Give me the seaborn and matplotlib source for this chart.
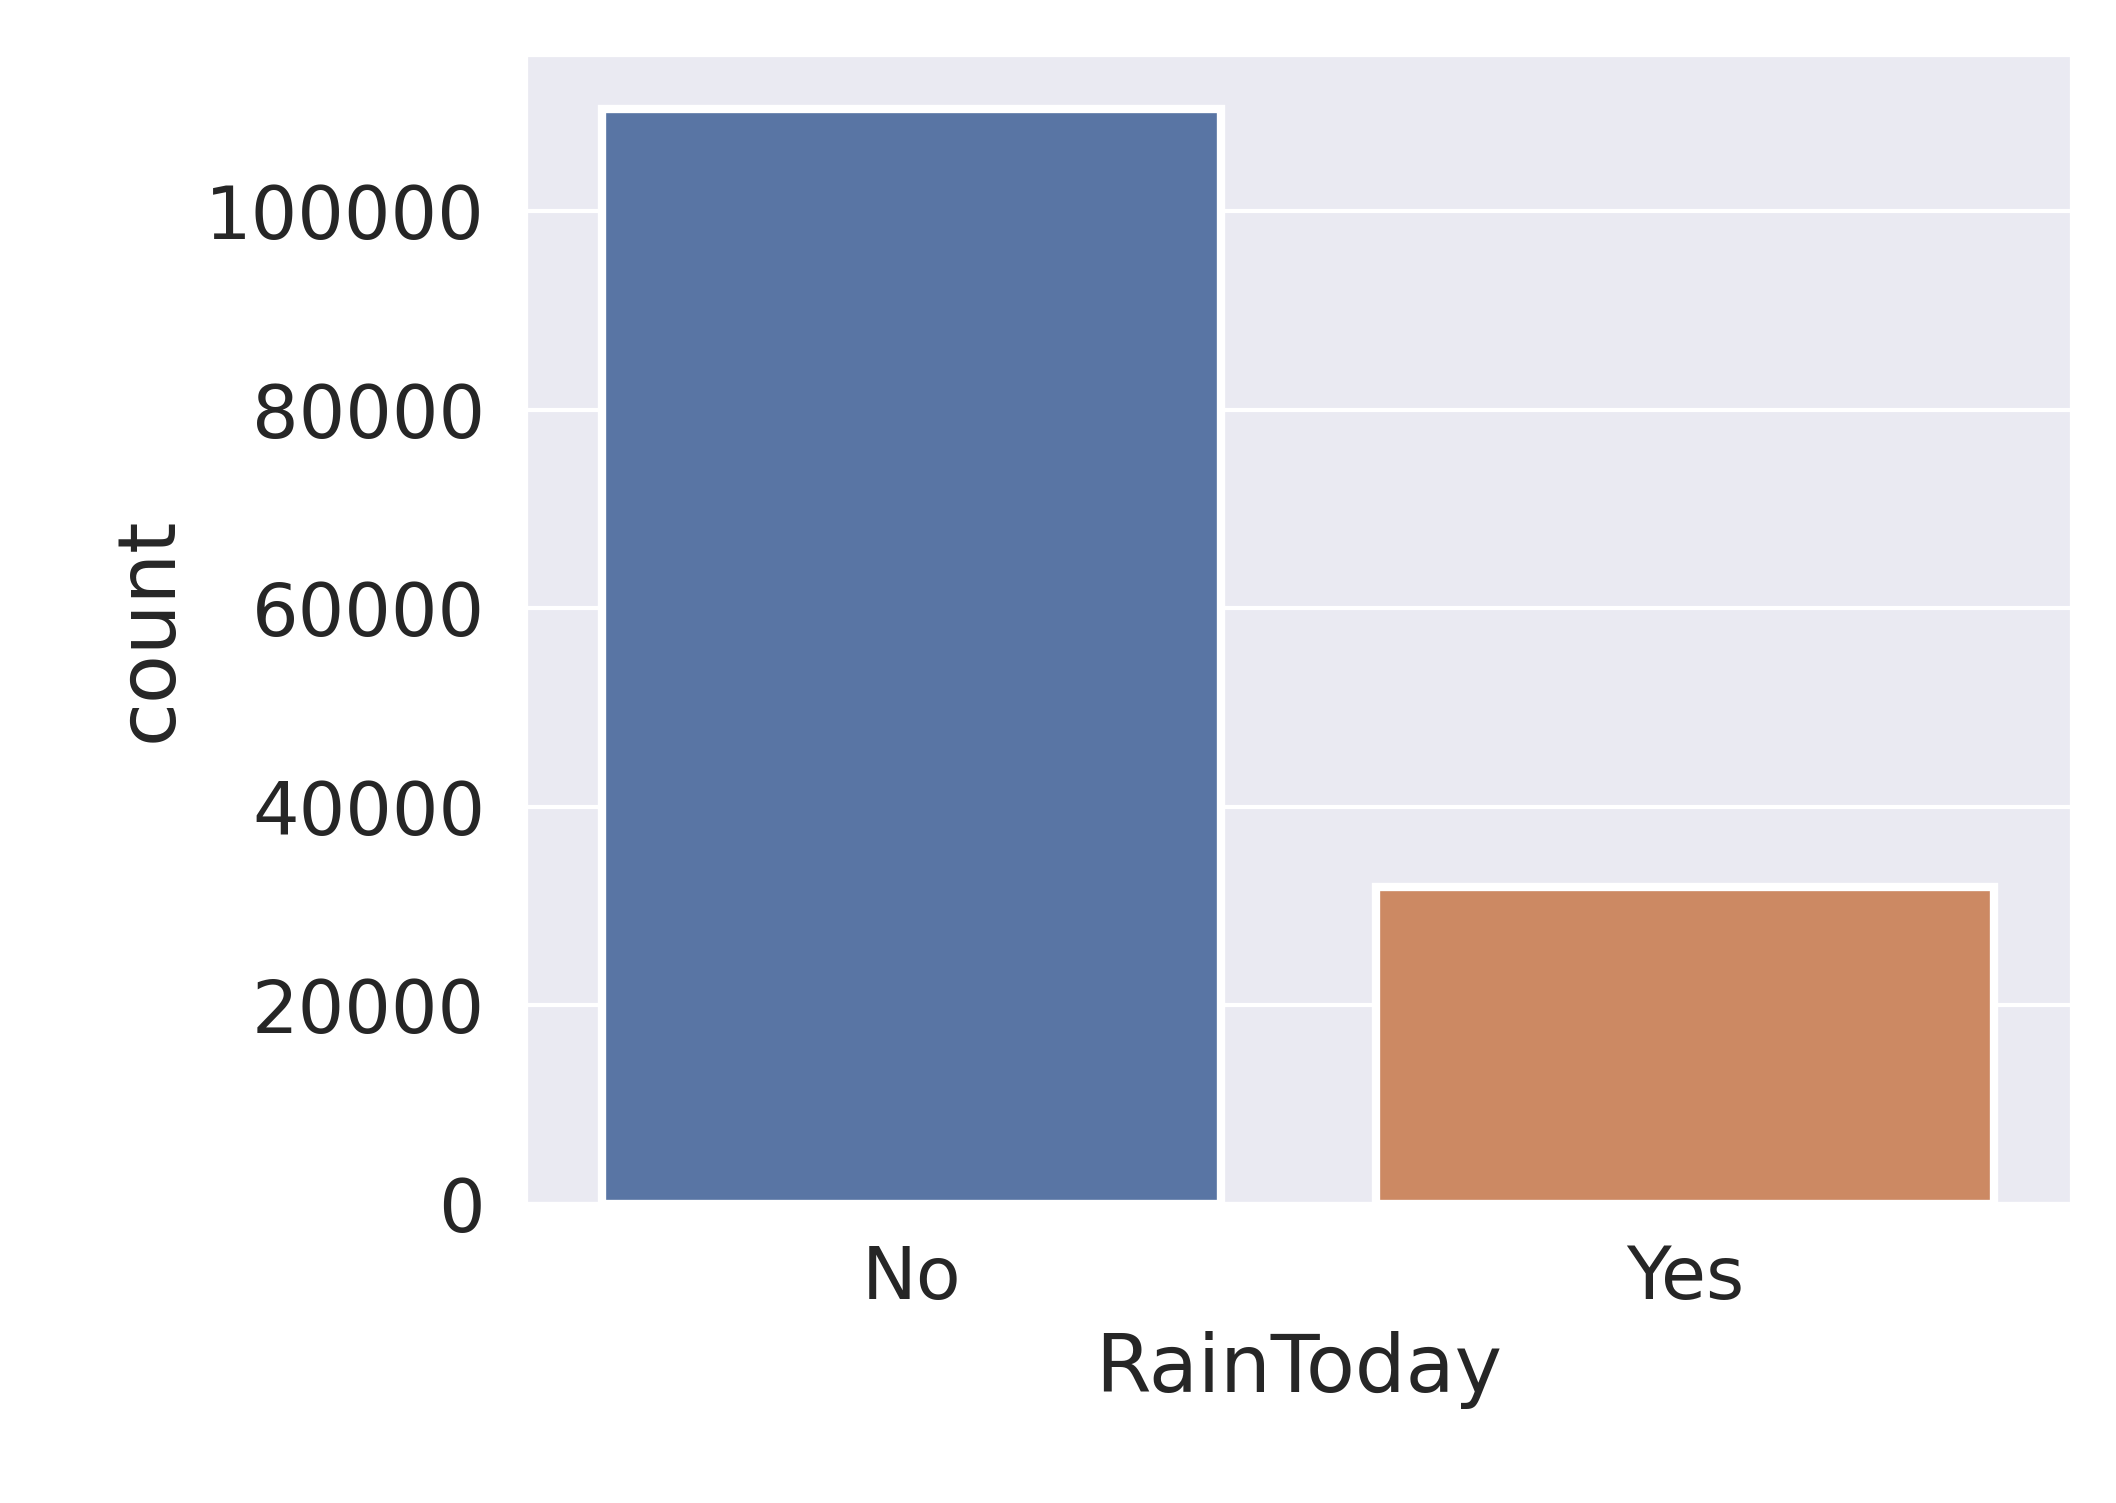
import matplotlib
matplotlib.use("Agg")
import matplotlib.pyplot as plt
import seaborn as sns
import pandas as pd

categories = ["No", "Yes"]
counts = [110319, 31880]

sns.set_theme(style="darkgrid", font_scale=1.6)
df = pd.DataFrame({"RainToday": categories, "count": counts})

fig = plt.figure(figsize=(2116/300, 1503/300), dpi=300)
ax = fig.add_axes([0.248, 0.199, 0.731, 0.765])
sns.barplot(data=df, x="RainToday", y="count", hue="RainToday",
            palette=["#4c72b0", "#dd8452"], saturation=0.75,
            edgecolor="white", linewidth=2, ax=ax, legend=False)
ax.set_yticks([0, 20000, 40000, 60000, 80000, 100000])
fig.savefig("out.png", dpi=300)
